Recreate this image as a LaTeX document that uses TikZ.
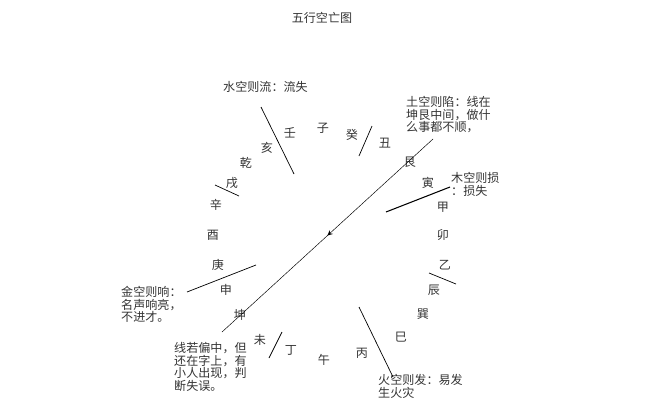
\documentclass[tikz,border=0pt]{standalone}
\usepackage{fontspec}
\setmainfont{Noto Sans CJK SC}
\usetikzlibrary{decorations.markings}
\begin{document}
\begin{tikzpicture}
            [
                x = 0.03cm, y = -0.03cm,
                every node/.style = {inner sep=0pt, text=black!80,
                font=\fontsize{10.3}{10.8}\selectfont},
                note/.style = {anchor=north west, align=left},
                kong/.style = {line width=0.6pt},
                midmark/.style = {postaction={decorate},
                decoration={markings, mark=at position 0.5 with {\arrow[scale=1.4]{stealth}}}}
            ]
            \useasboundingbox (0,0) rectangle (670,418);
            \node (title) at (322,18) {五行空亡图};
            % the ring of characters
            \foreach \p/\c/\n in {(290,133)/壬/ren, (323,128)/子/zi, (352,135)/癸/gui,
                (385,143)/丑/chou, (410,162)/艮/gen, (428,183)/寅/yin, (443,207)/甲/jia,
                (443,235)/卯/mao, (445,265)/乙/yi, (434,290)/辰/chen, (423,314)/巽/xun,
                (401,337)/巳/si, (362,353)/丙/bing, (324,360)/午/wu, (291,350)/丁/ding,
                (260,340)/未/wei, (240,315)/坤/kun, (226,290)/申/shen, (218,265)/庚/geng,
                (213,235)/酉/you, (216,205)/辛/xin, (232,183)/戌/xu, (246,163)/乾/qian,
                (267,148)/亥/hai}
                \node (\n) at \p {\c};
            % notes
            \node [anchor=west] (shuinote) at (223,87) {水空则流：流失};
            \node [note] (tunote) at (406,96) {土空则陷：线在\\坤艮中间，做什\\么事都不顺，};
            \node [note] (munote) at (451,172) {木空则损\\：损失};
            \node [note] (jinnote) at (121,286) {金空则响：\\名声响亮，\\不进才。};
            \node [note] (piannote) at (174,342) {线若偏中，但\\还在字上，有\\小人出现，判\\断失误。};
            \node [note] (huonote) at (378,374) {火空则发：易发\\生火灾};
            % dividing lines
            \coordinate (shui1) at (261,107);  \coordinate (shui2) at (294,174);
            \coordinate (gc1) at (372,126);    \coordinate (gc2) at (359,156);
            \coordinate (tu1) at (433,139);    \coordinate (tu2) at (222,332);
            \coordinate (mu1) at (450,187);    \coordinate (mu2) at (386,212);
            \coordinate (yc1) at (429,273);    \coordinate (yc2) at (456,284);
            \coordinate (huo1) at (359,307);   \coordinate (huo2) at (393,377);
            \coordinate (wd1) at (282,332);    \coordinate (wd2) at (269,358);
            \coordinate (jin1) at (256,265);   \coordinate (jin2) at (187,292);
            \coordinate (xx1) at (215,185);    \coordinate (xx2) at (239,196);
            \draw [kong] (shui1) -- (shui2);
            \draw [kong] (gc1) -- (gc2);
            \draw [line width=0.4pt, midmark] (tu1) -- (tu2);
            \draw [line width=0.9pt] (mu1) -- (mu2);
            \draw [kong] (yc1) -- (yc2);
            \draw [kong] (huo1) -- (huo2);
            \draw [kong] (wd1) -- (wd2);
            \draw [kong] (jin1) -- (jin2);
            \draw [kong] (xx1) -- (xx2);
        \end{tikzpicture}
\end{document}
